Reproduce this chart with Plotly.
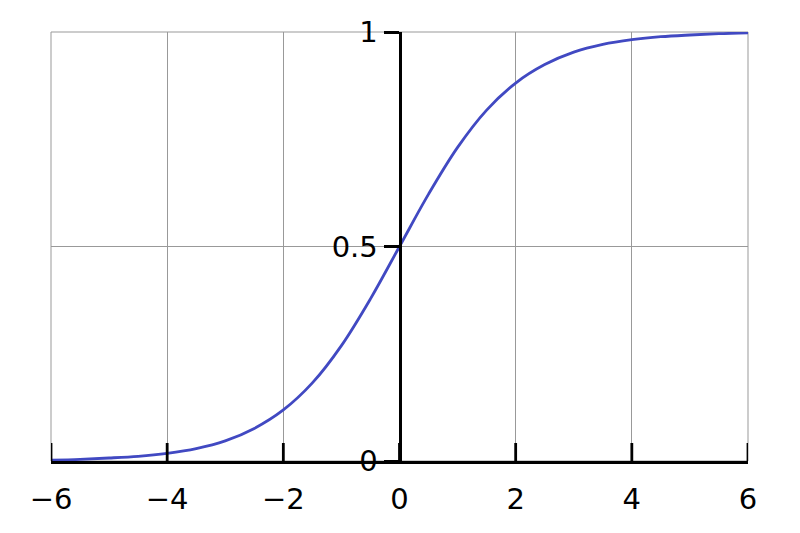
import plotly.graph_objects as go

x_vals = [-6, -5.5, -5, -4.5, -4, -3.5, -3, -2.5, -2, -1.5, -1, -0.5, 0,
          0.5, 1, 1.5, 2, 2.5, 3, 3.5, 4, 4.5, 5, 5.5, 6]
y_vals = [0.002, 0.004, 0.007, 0.011, 0.018, 0.029, 0.047, 0.076, 0.119, 0.182,
          0.269, 0.378, 0.5, 0.622, 0.731, 0.818, 0.881, 0.924, 0.953, 0.971,
          0.982, 0.989, 0.993, 0.996, 0.998]
x_ticks = [-6, -4, -2, 0, 2, 4, 6]
y_ticks = [0, 0.5, 1]
y_tick_text = ["0", "0.5", "1"]

fig = go.Figure()
fig.add_trace(go.Scatter(x=x_vals, y=y_vals, mode="lines",
                         line=dict(color="#4149c2", width=2.8, shape="spline"),
                         hoverinfo="skip"))

# frame gridlines at the range edges (plotly omits gridlines on the plot border)
fig.add_shape(type="rect", xref="paper", yref="paper", x0=0, x1=1, y0=0, y1=1,
              line=dict(color="#999999", width=1), layer="below")
# upward tick marks at every x tick, including the edges
for t in x_ticks:
    fig.add_shape(type="line", xref="x", yref="y", x0=t, x1=t,
                  ysizemode="pixel", yanchor=0, y0=0, y1=18,
                  line=dict(color="black", width=2.8))

fig.update_layout(
    width=792, height=525,
    margin=dict(l=43, r=52, t=24, b=72, autoexpand=False),
    paper_bgcolor="white", plot_bgcolor="white",
    showlegend=False,
    font=dict(family="DejaVu Sans", size=29, color="black"),
    xaxis=dict(range=[-6, 6], tickvals=x_ticks, showgrid=True, gridcolor="#999999",
               gridwidth=1, zeroline=False, showline=True, linecolor="black",
               linewidth=2.8, ticks="", ticklabelstandoff=10, automargin=False),
    yaxis=dict(range=[0, 1], tickvals=y_ticks, ticktext=y_tick_text, showgrid=True,
               gridcolor="#999999", gridwidth=1, zeroline=False, showline=True,
               linecolor="black", linewidth=2.8, ticks="outside", ticklen=15,
               tickwidth=2.8, tickcolor="black", anchor="free", position=0.5,
               automargin=False),
)

fig.write_html("out.html")
